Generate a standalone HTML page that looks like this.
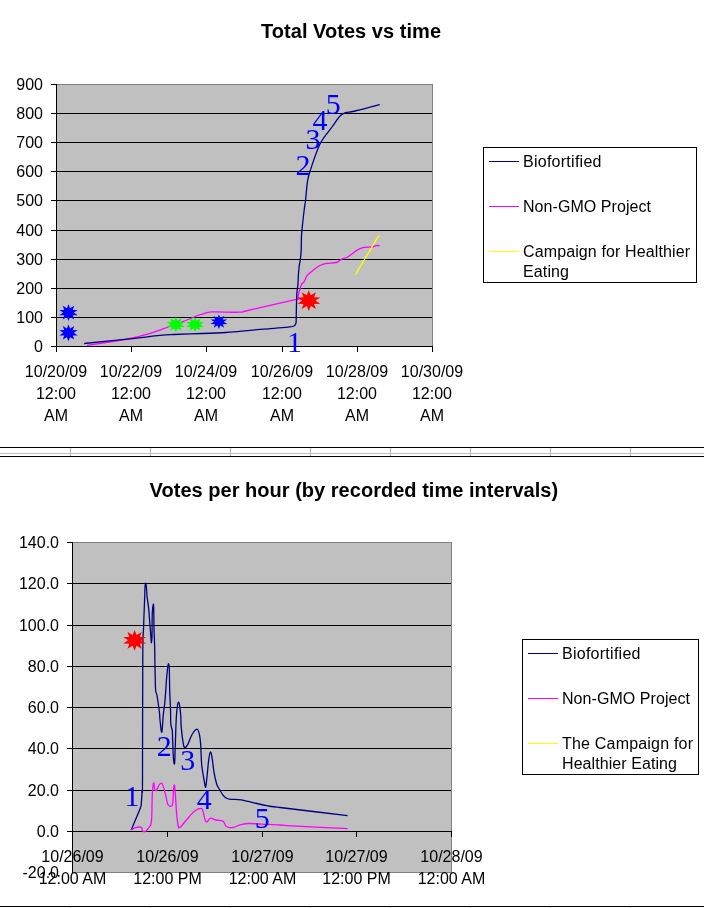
<!DOCTYPE html>
<html><head><meta charset="utf-8"><title>Votes charts</title>
<style>
html,body{margin:0;padding:0;background:#fff;}
body{width:704px;height:908px;overflow:hidden;}
svg{display:block;}
text{font-family:"Liberation Sans",Arial,sans-serif;font-size:16px;fill:#000;}
.t{font-weight:bold;font-size:20px;}
.n{font-family:"Liberation Serif","Times New Roman",serif;font-size:30px;fill:#0000ff;}
.m{text-anchor:middle;}
.e{text-anchor:end;}
.g{stroke:#000;stroke-width:1;shape-rendering:crispEdges;}
.d{fill:none;stroke-width:1.3;stroke-linejoin:round;}
</style></head><body>
<svg width="704" height="908" viewBox="0 0 704 908">
<rect x="0" y="0" width="704" height="908" fill="#fff"/>

<text class="t" x="261" y="38.4" textLength="180" lengthAdjust="spacing">Total Votes vs time</text>
<rect x="56" y="84" width="377" height="263" fill="#c0c0c0"/>
<rect x="56.5" y="84.5" width="376" height="262" fill="none" stroke="#808080" stroke-width="1" shape-rendering="crispEdges"/>
<line class="g" x1="51" y1="346.5" x2="56" y2="346.5"/>
<text class="e" x="43" y="352.0">0</text>
<line class="g" x1="56" y1="317.5" x2="432" y2="317.5"/>
<line class="g" x1="51" y1="317.5" x2="56" y2="317.5"/>
<text class="e" x="43" y="323.0">100</text>
<line class="g" x1="56" y1="288.5" x2="432" y2="288.5"/>
<line class="g" x1="51" y1="288.5" x2="56" y2="288.5"/>
<text class="e" x="43" y="294.0">200</text>
<line class="g" x1="56" y1="259.5" x2="432" y2="259.5"/>
<line class="g" x1="51" y1="259.5" x2="56" y2="259.5"/>
<text class="e" x="43" y="265.0">300</text>
<line class="g" x1="56" y1="230.5" x2="432" y2="230.5"/>
<line class="g" x1="51" y1="230.5" x2="56" y2="230.5"/>
<text class="e" x="43" y="236.0">400</text>
<line class="g" x1="56" y1="200.5" x2="432" y2="200.5"/>
<line class="g" x1="51" y1="200.5" x2="56" y2="200.5"/>
<text class="e" x="43" y="206.0">500</text>
<line class="g" x1="56" y1="171.5" x2="432" y2="171.5"/>
<line class="g" x1="51" y1="171.5" x2="56" y2="171.5"/>
<text class="e" x="43" y="177.0">600</text>
<line class="g" x1="56" y1="142.5" x2="432" y2="142.5"/>
<line class="g" x1="51" y1="142.5" x2="56" y2="142.5"/>
<text class="e" x="43" y="148.0">700</text>
<line class="g" x1="56" y1="113.5" x2="432" y2="113.5"/>
<line class="g" x1="51" y1="113.5" x2="56" y2="113.5"/>
<text class="e" x="43" y="119.0">800</text>
<line class="g" x1="51" y1="84.5" x2="56" y2="84.5"/>
<text class="e" x="43" y="90.0">900</text>
<line class="g" x1="56.5" y1="84" x2="56.5" y2="347"/>
<line class="g" x1="56" y1="346.5" x2="433" y2="346.5"/>
<line class="g" x1="56.5" y1="346" x2="56.5" y2="352"/>
<text class="m" x="56" y="376.5">10/20/09</text>
<text class="m" x="56" y="398.5">12:00</text>
<text class="m" x="56" y="420.5">AM</text>
<line class="g" x1="131.5" y1="346" x2="131.5" y2="352"/>
<text class="m" x="131" y="376.5">10/22/09</text>
<text class="m" x="131" y="398.5">12:00</text>
<text class="m" x="131" y="420.5">AM</text>
<line class="g" x1="206.5" y1="346" x2="206.5" y2="352"/>
<text class="m" x="206" y="376.5">10/24/09</text>
<text class="m" x="206" y="398.5">12:00</text>
<text class="m" x="206" y="420.5">AM</text>
<line class="g" x1="282.5" y1="346" x2="282.5" y2="352"/>
<text class="m" x="282" y="376.5">10/26/09</text>
<text class="m" x="282" y="398.5">12:00</text>
<text class="m" x="282" y="420.5">AM</text>
<line class="g" x1="357.5" y1="346" x2="357.5" y2="352"/>
<text class="m" x="357" y="376.5">10/28/09</text>
<text class="m" x="357" y="398.5">12:00</text>
<text class="m" x="357" y="420.5">AM</text>
<line class="g" x1="432.5" y1="346" x2="432.5" y2="352"/>
<text class="m" x="432" y="376.5">10/30/09</text>
<text class="m" x="432" y="398.5">12:00</text>
<text class="m" x="432" y="420.5">AM</text>
<path class="d" stroke="#ff00ff" d="M87.0,345.4C93.8,344.3 117.1,341.0 127.6,339.0C138.1,337.0 143.3,335.4 150.0,333.4C156.7,331.4 162.3,329.1 168.0,327.0C173.7,324.9 180.1,322.7 184.4,321.0C188.7,319.3 190.9,318.2 194.0,317.0C197.1,315.8 200.2,314.8 203.2,313.9C206.1,313.0 205.8,312.2 211.7,311.9C217.6,311.6 232.6,312.4 238.6,312.2C244.6,312.0 237.9,312.7 247.7,310.5C257.5,308.3 289.3,301.0 297.6,299.1C305.9,297.2 297.5,299.9 297.6,299.1C297.8,298.4 297.9,297.0 298.5,294.6C299.1,292.2 300.6,286.6 301.5,284.5C302.4,282.4 303.1,283.3 304.0,281.8C304.9,280.3 305.7,277.4 307.0,275.6C308.3,273.8 309.9,272.9 312.0,271.2C314.1,269.5 317.4,266.8 319.8,265.5C322.2,264.2 323.7,263.9 326.4,263.4C329.1,262.9 333.6,263.2 336.2,262.5C338.8,261.8 340.0,260.0 341.9,259.1C343.8,258.2 345.0,258.5 347.6,257.0C350.2,255.5 354.8,251.5 357.5,249.9C360.2,248.3 361.4,247.9 363.9,247.4C366.4,246.9 370.4,247.3 372.4,247.0C374.4,246.7 374.8,245.8 376.0,245.6C377.2,245.4 379.2,245.6 379.8,245.6"/>
<path class="d" stroke="#000080" d="M84.2,343.5C91.8,342.7 117.4,340.2 130.0,338.9C142.6,337.5 152.7,336.1 160.0,335.4C167.3,334.7 167.0,334.8 174.0,334.5C181.0,334.2 193.4,333.8 202.0,333.5C210.6,333.2 219.2,332.9 225.5,332.5C231.8,332.1 235.9,331.8 240.0,331.4C244.1,331.0 244.9,330.8 250.0,330.3C255.1,329.8 263.9,329.2 270.5,328.6C277.1,328.0 285.8,327.4 289.8,326.9C293.8,326.4 293.3,326.4 294.3,325.8C295.3,325.2 295.7,324.3 296.0,323.0C296.3,321.7 296.1,322.7 296.2,318.0C296.3,313.3 296.5,300.2 296.8,294.6C297.1,289.1 297.6,288.0 297.9,284.7C298.2,281.4 298.2,278.1 298.4,275.0C298.6,271.9 298.9,268.7 299.2,266.0C299.5,263.3 300.1,261.7 300.4,259.0C300.7,256.3 301.0,253.9 301.2,250.0C301.4,246.1 301.2,240.5 301.5,235.5C301.8,230.5 302.5,224.8 303.0,220.0C303.5,215.2 304.2,210.1 304.6,206.7C305.0,203.3 305.2,203.8 305.6,199.8C306.1,195.8 306.6,187.5 307.3,182.9C308.0,178.3 307.7,178.5 309.8,172.0C311.9,165.5 316.3,151.5 320.0,144.0C323.7,136.5 328.7,131.7 332.0,127.0C335.3,122.3 337.7,118.4 340.0,116.0C342.3,113.6 343.2,113.5 345.7,112.7C348.2,111.9 349.3,112.4 355.0,111.0C360.7,109.6 375.6,105.6 379.7,104.5"/>
<polyline class="d" stroke="#ffff00" points="355.4,274.7 378.1,236.6 379.8,236.1"/>
<polygon fill="#0000ff" points="68.5,304.2 70.1,308.2 74.2,305.8 72.8,309.9 77.7,310.0 73.8,312.6 77.7,315.2 72.8,315.3 74.2,319.4 70.1,317.0 68.5,321.0 66.9,317.0 62.8,319.4 64.2,315.3 59.3,315.2 63.2,312.6 59.3,310.0 64.2,309.9 62.8,305.8 66.9,308.2"/>
<polygon fill="#0000ff" points="68.5,324.4 70.1,328.4 74.2,326.0 72.8,330.1 77.7,330.2 73.8,332.8 77.7,335.4 72.8,335.5 74.2,339.6 70.1,337.2 68.5,341.2 66.9,337.2 62.8,339.6 64.2,335.5 59.3,335.4 63.2,332.8 59.3,330.2 64.2,330.1 62.8,326.0 66.9,328.4"/>
<polygon fill="#00ff00" points="175.8,316.9 177.4,320.5 181.4,318.4 180.0,322.0 184.8,322.2 181.0,324.5 184.8,326.8 180.0,327.0 181.4,330.6 177.4,328.5 175.8,332.1 174.2,328.5 170.2,330.6 171.6,327.0 166.8,326.8 170.6,324.5 166.8,322.2 171.6,322.0 170.2,318.4 174.2,320.5"/>
<polygon fill="#00ff00" points="195.0,316.9 196.6,320.5 200.6,318.4 199.2,322.0 204.0,322.2 200.2,324.5 204.0,326.8 199.2,327.0 200.6,330.6 196.6,328.5 195.0,332.1 193.4,328.5 189.4,330.6 190.8,327.0 186.0,326.8 189.8,324.5 186.0,322.2 190.8,322.0 189.4,318.4 193.4,320.5"/>
<polygon fill="#0000ff" points="218.9,314.5 220.4,318.0 224.1,315.9 222.8,319.4 227.3,319.5 223.7,321.8 227.3,324.1 222.8,324.2 224.1,327.7 220.4,325.6 218.9,329.1 217.4,325.6 213.7,327.7 215.0,324.2 210.5,324.1 214.1,321.8 210.5,319.5 215.0,319.4 213.7,315.9 217.4,318.0"/>
<polygon fill="#ff0000" points="308.8,290.2 310.8,295.2 315.9,292.2 314.1,297.2 320.2,297.4 315.4,300.6 320.2,303.8 314.1,304.0 315.9,309.0 310.8,306.0 308.8,311.0 306.8,306.0 301.7,309.0 303.5,304.0 297.4,303.8 302.2,300.6 297.4,297.4 303.5,297.2 301.7,292.2 306.8,295.2"/>
<text class="n m" x="294.4" y="351.8">1</text>
<text class="n m" x="302.9" y="174.6">2</text>
<text class="n m" x="313.1" y="148.5">3</text>
<text class="n m" x="320.1" y="129.6">4</text>
<text class="n m" x="333.2" y="114.4">5</text>
<rect x="483.5" y="147.5" width="213" height="135" fill="#fff" stroke="#000" stroke-width="1" shape-rendering="crispEdges"/>
<line x1="489" y1="161.5" x2="519" y2="161.5" stroke="#000080" stroke-width="1" shape-rendering="crispEdges"/>
<line x1="489" y1="206.5" x2="519" y2="206.5" stroke="#ff00ff" stroke-width="1" shape-rendering="crispEdges"/>
<line x1="489" y1="251.5" x2="519" y2="251.5" stroke="#ffff00" stroke-width="1" shape-rendering="crispEdges"/>
<text x="523" y="166.5" textLength="78.5">Biofortified</text>
<text x="523" y="211.5" textLength="128">Non-GMO Project</text>
<text x="523" y="257" textLength="167">Campaign for Healthier</text>
<text x="523" y="277" textLength="46">Eating</text>
<line x1="70.5" y1="447" x2="70.5" y2="457" stroke="#b0b0b0" stroke-width="1" shape-rendering="crispEdges"/>
<line x1="150.5" y1="447" x2="150.5" y2="457" stroke="#b0b0b0" stroke-width="1" shape-rendering="crispEdges"/>
<line x1="230.5" y1="447" x2="230.5" y2="457" stroke="#b0b0b0" stroke-width="1" shape-rendering="crispEdges"/>
<line x1="310.5" y1="447" x2="310.5" y2="457" stroke="#b0b0b0" stroke-width="1" shape-rendering="crispEdges"/>
<line x1="390.5" y1="447" x2="390.5" y2="457" stroke="#b0b0b0" stroke-width="1" shape-rendering="crispEdges"/>
<line x1="470.5" y1="447" x2="470.5" y2="457" stroke="#b0b0b0" stroke-width="1" shape-rendering="crispEdges"/>
<line x1="550.5" y1="447" x2="550.5" y2="457" stroke="#b0b0b0" stroke-width="1" shape-rendering="crispEdges"/>
<line x1="630.5" y1="447" x2="630.5" y2="457" stroke="#b0b0b0" stroke-width="1" shape-rendering="crispEdges"/>
<line x1="0" y1="453.5" x2="704" y2="453.5" stroke="#c0c0c0" stroke-width="1" shape-rendering="crispEdges"/>
<line class="g" x1="0" y1="447.5" x2="704" y2="447.5"/>
<line class="g" x1="0" y1="456.5" x2="704" y2="456.5"/>
<line x1="70.5" y1="906" x2="70.5" y2="908" stroke="#b0b0b0" stroke-width="1" shape-rendering="crispEdges"/>
<line x1="150.5" y1="906" x2="150.5" y2="908" stroke="#b0b0b0" stroke-width="1" shape-rendering="crispEdges"/>
<line x1="230.5" y1="906" x2="230.5" y2="908" stroke="#b0b0b0" stroke-width="1" shape-rendering="crispEdges"/>
<line x1="310.5" y1="906" x2="310.5" y2="908" stroke="#b0b0b0" stroke-width="1" shape-rendering="crispEdges"/>
<line x1="390.5" y1="906" x2="390.5" y2="908" stroke="#b0b0b0" stroke-width="1" shape-rendering="crispEdges"/>
<line x1="470.5" y1="906" x2="470.5" y2="908" stroke="#b0b0b0" stroke-width="1" shape-rendering="crispEdges"/>
<line x1="550.5" y1="906" x2="550.5" y2="908" stroke="#b0b0b0" stroke-width="1" shape-rendering="crispEdges"/>
<line x1="630.5" y1="906" x2="630.5" y2="908" stroke="#b0b0b0" stroke-width="1" shape-rendering="crispEdges"/>
<line class="g" x1="0" y1="906.5" x2="704" y2="906.5"/>
<text class="t" x="149.6" y="496.6" textLength="408.5" lengthAdjust="spacing">Votes per hour (by recorded time intervals)</text>
<rect x="72" y="542" width="380" height="331" fill="#c0c0c0"/>
<rect x="72.5" y="542.5" width="379" height="330" fill="none" stroke="#808080" stroke-width="1" shape-rendering="crispEdges"/>
<text class="e" x="59" y="878.0">-20.0</text>
<line class="g" x1="72" y1="831.5" x2="451" y2="831.5"/>
<line class="g" x1="67" y1="831.5" x2="72" y2="831.5"/>
<text class="e" x="59" y="837.0">0.0</text>
<line class="g" x1="72" y1="790.5" x2="451" y2="790.5"/>
<line class="g" x1="67" y1="790.5" x2="72" y2="790.5"/>
<text class="e" x="59" y="796.0">20.0</text>
<line class="g" x1="72" y1="748.5" x2="451" y2="748.5"/>
<line class="g" x1="67" y1="748.5" x2="72" y2="748.5"/>
<text class="e" x="59" y="754.0">40.0</text>
<line class="g" x1="72" y1="707.5" x2="451" y2="707.5"/>
<line class="g" x1="67" y1="707.5" x2="72" y2="707.5"/>
<text class="e" x="59" y="713.0">60.0</text>
<line class="g" x1="72" y1="666.5" x2="451" y2="666.5"/>
<line class="g" x1="67" y1="666.5" x2="72" y2="666.5"/>
<text class="e" x="59" y="672.0">80.0</text>
<line class="g" x1="72" y1="625.5" x2="451" y2="625.5"/>
<line class="g" x1="67" y1="625.5" x2="72" y2="625.5"/>
<text class="e" x="59" y="631.0">100.0</text>
<line class="g" x1="72" y1="583.5" x2="451" y2="583.5"/>
<line class="g" x1="67" y1="583.5" x2="72" y2="583.5"/>
<text class="e" x="59" y="589.0">120.0</text>
<line class="g" x1="67" y1="542.5" x2="72" y2="542.5"/>
<text class="e" x="59" y="548.0">140.0</text>
<line class="g" x1="72.5" y1="542" x2="72.5" y2="873"/>
<line class="g" x1="72.5" y1="831" x2="72.5" y2="837"/>
<text class="m" x="72.5" y="861.5">10/26/09</text>
<text class="m" x="72.5" y="884">12:00 AM</text>
<line class="g" x1="167.5" y1="831" x2="167.5" y2="837"/>
<text class="m" x="167.5" y="861.5">10/26/09</text>
<text class="m" x="167.5" y="884">12:00 PM</text>
<line class="g" x1="262.5" y1="831" x2="262.5" y2="837"/>
<text class="m" x="262.5" y="861.5">10/27/09</text>
<text class="m" x="262.5" y="884">12:00 AM</text>
<line class="g" x1="356.5" y1="831" x2="356.5" y2="837"/>
<text class="m" x="356.5" y="861.5">10/27/09</text>
<text class="m" x="356.5" y="884">12:00 PM</text>
<line class="g" x1="451.5" y1="831" x2="451.5" y2="837"/>
<text class="m" x="451.5" y="861.5">10/28/09</text>
<text class="m" x="451.5" y="884">12:00 AM</text>
<path class="d" stroke="#000080" d="M131.2,830.1C132.7,826.4 138.7,812.5 140.4,807.8C142.1,803.1 141.1,804.6 141.4,801.8C141.7,799.0 141.9,794.5 142.1,790.9C142.3,787.3 142.4,803.0 142.5,780.0C142.6,757.0 142.6,678.2 142.8,653.0C143.0,627.8 143.2,637.5 143.5,629.0C143.8,620.5 144.2,609.0 144.5,602.0C144.8,595.0 144.8,590.1 145.0,587.0C145.2,583.9 145.4,583.2 145.6,583.2C145.8,583.2 146.2,584.7 146.4,587.0C146.7,589.3 146.7,593.4 147.1,596.9C147.5,600.4 148.2,604.3 148.6,607.8C149.0,611.3 149.2,614.6 149.4,617.8C149.7,620.9 149.8,623.1 150.1,626.7C150.4,630.3 150.9,637.0 151.1,639.6C151.3,642.2 151.2,643.1 151.4,642.6C151.6,642.1 151.8,641.6 152.0,636.6C152.2,631.6 152.0,618.1 152.3,612.8C152.6,607.5 153.3,602.3 153.6,604.8C153.9,607.3 153.8,620.8 154.0,628.0C154.2,635.2 154.5,641.3 154.7,648.0C154.9,654.7 154.8,661.0 155.0,668.0C155.2,675.0 155.3,685.5 155.6,690.0C155.9,694.5 156.3,691.3 156.9,695.0C157.5,698.7 158.9,707.8 159.4,712.0C159.9,716.2 159.6,716.6 160.0,720.0C160.4,723.4 161.2,733.1 161.8,732.2C162.4,731.3 162.8,719.6 163.3,714.7C163.8,709.8 164.4,706.9 164.8,702.7C165.2,698.6 165.5,694.3 165.8,689.8C166.1,685.3 166.4,680.2 166.8,675.9C167.2,671.6 167.9,665.2 168.3,664.1C168.7,663.0 169.1,664.5 169.3,669.0C169.5,673.5 169.5,684.5 169.7,691.0C169.9,697.5 170.3,702.6 170.5,708.0C170.7,713.4 170.5,719.8 170.8,723.6C171.1,727.4 172.0,728.0 172.3,730.6C172.6,733.2 172.4,735.0 172.6,739.5C172.8,744.0 173.1,753.8 173.4,757.8C173.7,761.8 174.3,765.5 174.6,763.4C174.9,761.3 175.0,752.6 175.3,745.0C175.6,737.4 175.9,724.3 176.3,717.6C176.7,710.9 177.2,707.3 177.6,704.7C178.0,702.1 178.3,702.2 178.6,702.2C178.9,702.2 179.2,702.6 179.5,704.7C179.8,706.8 180.4,711.1 180.7,714.7C181.0,718.4 180.8,721.7 181.2,726.6C181.6,731.5 182.7,740.4 183.3,743.9C183.9,747.4 184.1,747.6 184.8,747.7C185.6,747.8 186.6,746.5 187.8,744.4C189.0,742.3 190.3,737.5 191.8,735.0C193.3,732.5 195.6,729.3 196.9,729.2C198.2,729.1 198.8,731.7 199.4,734.3C200.0,736.9 200.3,739.8 200.7,744.9C201.1,750.0 201.1,758.8 201.7,764.8C202.3,770.8 203.5,777.0 204.2,780.7C204.9,784.4 205.2,788.1 205.7,787.1C206.2,786.1 206.7,779.2 207.2,774.7C207.7,770.2 208.2,763.6 208.7,759.8C209.2,756.0 209.8,752.3 210.4,752.0C211.0,751.7 211.5,754.3 212.1,757.8C212.7,761.2 213.3,768.4 214.1,772.7C214.8,777.0 215.8,781.1 216.6,783.7C217.4,786.3 217.7,786.4 218.8,788.3C219.9,790.2 221.8,793.6 223.2,795.3C224.6,797.0 225.8,797.8 227.1,798.5C228.4,799.2 228.6,799.2 230.9,799.4C233.2,799.6 237.3,799.2 241.1,799.8C244.9,800.4 249.6,801.8 253.9,802.8C258.2,803.8 262.3,804.8 266.7,805.6C271.1,806.4 266.5,805.8 280.0,807.5C293.5,809.2 336.3,814.2 347.6,815.6"/>
<path class="d" stroke="#ff00ff" d="M131.2,830.1C131.8,829.7 133.2,828.2 134.9,827.8C136.6,827.3 140.2,826.8 141.4,827.4C142.7,828.0 141.7,830.5 142.4,831.1C143.2,831.7 144.7,831.9 145.9,831.1C147.2,830.3 149.0,827.4 149.9,826.2C150.8,825.0 150.8,825.5 151.1,823.7C151.4,822.0 151.6,820.5 151.8,815.7C152.0,810.9 152.0,800.3 152.3,794.8C152.6,789.3 153.2,783.9 153.6,782.9C154.0,781.9 154.4,787.6 154.8,788.9C155.2,790.1 155.6,791.0 156.3,790.4C157.0,789.8 158.0,786.6 158.8,785.4C159.6,784.2 160.6,783.0 161.3,783.2C162.1,783.4 162.6,784.3 163.3,786.4C164.1,788.5 165.1,792.8 165.8,795.8C166.6,798.8 167.0,802.5 167.8,804.3C168.6,806.0 169.9,806.4 170.7,806.3C171.5,806.2 172.2,806.5 172.7,803.8C173.2,801.1 173.2,793.0 173.5,789.9C173.8,786.8 174.1,784.6 174.4,784.9C174.7,785.2 174.8,786.8 175.2,791.8C175.6,796.8 176.2,809.0 176.7,814.7C177.2,820.4 177.8,824.1 178.2,826.2C178.6,828.4 178.6,827.7 179.2,827.6C179.8,827.5 180.0,827.6 181.7,825.7C183.4,823.8 187.4,818.7 189.6,816.2C191.8,813.7 193.2,812.0 195.1,810.7C197.0,809.4 199.6,808.4 200.9,808.4C202.2,808.4 202.2,809.0 202.8,810.7C203.4,812.4 204.1,816.5 204.7,818.4C205.3,820.3 205.6,822.2 206.6,822.2C207.6,822.2 209.0,818.5 210.5,818.1C212.0,817.7 213.7,819.5 215.6,820.0C217.5,820.5 220.6,820.4 222.0,820.9C223.4,821.4 223.7,821.9 224.3,822.8C224.9,823.6 224.9,825.2 225.8,826.0C226.7,826.8 228.3,827.4 229.6,827.6C230.9,827.8 231.6,827.8 233.5,827.3C235.4,826.8 238.5,825.3 241.1,824.7C243.7,824.1 245.4,823.6 248.8,823.5C252.2,823.4 256.4,823.9 261.6,824.1C266.8,824.4 274.2,824.6 280.0,825.0C285.8,825.4 285.1,825.6 296.4,826.2C307.7,826.8 339.1,828.2 347.6,828.6"/>
<polygon fill="#ff0000" points="134.6,629.9 136.6,634.9 141.7,631.9 139.9,636.9 146.0,637.1 141.2,640.3 146.0,643.5 139.9,643.7 141.7,648.7 136.6,645.7 134.6,650.7 132.6,645.7 127.5,648.7 129.3,643.7 123.2,643.5 128.0,640.3 123.2,637.1 129.3,636.9 127.5,631.9 132.6,634.9"/>
<text class="n m" x="132.0" y="805.8">1</text>
<text class="n m" x="164.3" y="756.0">2</text>
<text class="n m" x="187.8" y="769.7">3</text>
<text class="n m" x="204.3" y="808.6">4</text>
<text class="n m" x="262.2" y="827.6">5</text>
<rect x="522.5" y="639.5" width="176" height="135" fill="#fff" stroke="#000" stroke-width="1" shape-rendering="crispEdges"/>
<line x1="528" y1="653.5" x2="558" y2="653.5" stroke="#000080" stroke-width="1" shape-rendering="crispEdges"/>
<line x1="528" y1="698.5" x2="558" y2="698.5" stroke="#ff00ff" stroke-width="1" shape-rendering="crispEdges"/>
<line x1="528" y1="743.5" x2="558" y2="743.5" stroke="#ffff00" stroke-width="1" shape-rendering="crispEdges"/>
<text x="562" y="658.5" textLength="78.5">Biofortified</text>
<text x="562" y="703.5" textLength="128">Non-GMO Project</text>
<text x="562" y="748.5" textLength="131">The Campaign for</text>
<text x="562" y="768.5" textLength="115">Healthier Eating</text>
</svg></body></html>
